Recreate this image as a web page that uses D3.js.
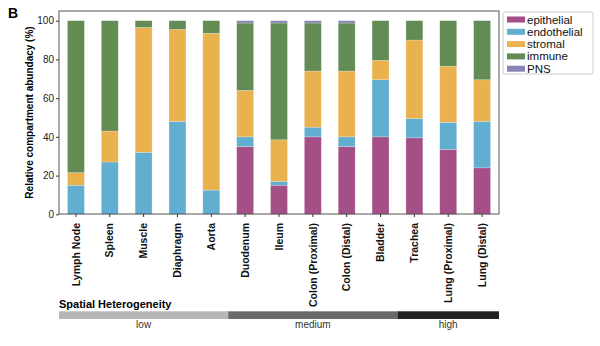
<!DOCTYPE html>
<html>
<head>
<meta charset="utf-8">
<script src="https://cdn.jsdelivr.net/npm/d3@7"></script>
<style>
  body { margin: 0; background: #fff; }
  svg { font-family: "Liberation Sans", Arial, sans-serif; }
</style>
</head>
<body>
<svg id="chart" width="600" height="346"></svg>
<script>
// data
const tissues = ["Lymph Node", "Spleen", "Muscle", "Diaphragm", "Aorta", "Duodenum", "Ileum",
  "Colon (Proximal)", "Colon (Distal)", "Bladder", "Trachea", "Lung (Proximal)", "Lung (Distal)"];
const epithelial  = [0, 0, 0, 0, 0, 35, 15, 40, 35, 40, 39.5, 33.5, 24];
const endothelial = [15, 27, 32, 48, 12.5, 5, 2, 5, 5, 29.5, 10, 14, 24];
const stromal     = [6.5, 16, 64.5, 47.5, 81, 24, 21.5, 29, 34, 10, 40.5, 29, 21.5];
const immune      = [78.5, 57, 3.5, 4.5, 6.5, 34.8, 60.3, 24.8, 24.8, 20.5, 10, 23.5, 30.5];
const pns         = [0, 0, 0, 0, 0, 1.2, 1.2, 1.2, 1.2, 0, 0, 0, 0];
const compartments = ["epithelial", "endothelial", "stromal", "immune", "PNS"];
const yTicks = [0, 20, 40, 60, 80, 100];
const heterogeneity = ["low", "low", "low", "low", "low", "medium", "medium", "medium", "medium", "medium", "high", "high", "high"];
const hetLevels = ["low", "medium", "high"];

const colors = {
  epithelial: "#a44f86",
  endothelial: "#62aed0",
  stromal: "#e9b24e",
  immune: "#638c55",
  PNS: "#8884b8"
};
const hetColors = { low: "#b6b6b6", medium: "#6a6a6a", high: "#222222" };

//build table for the stack
const series = [epithelial, endothelial, stromal, immune, pns];
const rows = tissues.map((t, i) => {
  let r = { tissue: t };
  compartments.forEach((c, j) => r[c] = series[j][i]);
  return r;
});

const margin = { top: 11, left: 59, right: 101, bottom: 132 };
const width = 600 - margin.left - margin.right;
const height = 346 - margin.top - margin.bottom;

const svg = d3.select("svg#chart");
const plot = svg.append("g")
  .attr("transform", "translate(" + margin.left + "," + margin.top + ")");

const xScale = d3.scaleBand()
  .domain(tissues)
  .range([0, width])
  .paddingInner(0.5)
  .paddingOuter(0.25);

const yScale = d3.scaleLinear()
  .domain([0, 100])
  .range([203.3, 9.7]);

const stacked = d3.stack().keys(compartments)(rows);

plot.selectAll("g.layer")
  .data(stacked)
  .enter()
  .append("g")
  .attr("class", "layer")
  .style("fill", d => colors[d.key])
  .selectAll("rect")
  .data(d => d)
  .enter()
  .append("rect")
  .attr("x", d => xScale(d.data.tissue))
  .attr("y", d => yScale(d[1]))
  .attr("width", xScale.bandwidth())
  .attr("height", d => yScale(d[0]) - yScale(d[1]))
  .style("stroke", "#ffffff")
  .style("stroke-opacity", 0.35)
  .style("stroke-width", 0.6);

//frame
plot.append("rect")
  .attr("width", width)
  .attr("height", height)
  .style("fill", "none")
  .style("stroke", "#555")
  .style("stroke-width", 1);

//y axis
const yAxis = plot.append("g")
  .call(d3.axisLeft(yScale).tickValues(yTicks).tickSize(3).tickPadding(2));
yAxis.select(".domain").remove();
yAxis.selectAll("text").style("font-size", "10px").style("fill", "#222");
yAxis.selectAll("line").style("stroke", "#333");

//x axis
const xAxis = plot.append("g")
  .attr("transform", "translate(0," + height + ")")
  .call(d3.axisBottom(xScale).tickSize(3));
xAxis.select(".domain").remove();
xAxis.selectAll("line").style("stroke", "#333");
xAxis.selectAll("text")
  .attr("transform", "rotate(-90)")
  .attr("x", -9)
  .attr("y", 0)
  .attr("dy", "0.35em")
  .style("text-anchor", "end")
  .style("font-size", "10.5px")
  .style("font-weight", "bold")
  .style("fill", "#111");

//y label
svg.append("text")
  .attr("transform", "translate(33," + (margin.top + height / 2) + ") rotate(-90)")
  .style("text-anchor", "middle")
  .style("font-size", "10px")
  .style("font-weight", "bold")
  .text("Relative compartment abundacy (%)");

//panel letter
svg.append("text")
  .attr("x", 8)
  .attr("y", 18)
  .style("font-size", "14px")
  .style("font-weight", "bold")
  .text("B");

//legend
const legend = svg.append("g").attr("transform", "translate(503,12)");
legend.append("rect")
  .attr("width", 90)
  .attr("height", 62)
  .attr("rx", 2)
  .style("fill", "#fff")
  .style("stroke", "#cccccc");
compartments.forEach((c, i) => {
  legend.append("rect")
    .attr("x", 4)
    .attr("y", 4.5 + i * 12.3)
    .attr("width", 18)
    .attr("height", 6)
    .style("fill", colors[c]);
  legend.append("text")
    .attr("x", 24)
    .attr("y", 11.5 + i * 12.3)
    .style("font-size", "11.5px")
    .style("fill", "#111")
    .text(c);
});

//spatial heterogeneity bar
const het = svg.append("g").attr("transform", "translate(" + margin.left + ",0)");
het.append("text")
  .attr("x", 0)
  .attr("y", 308)
  .style("font-size", "11px")
  .style("font-weight", "bold")
  .text("Spatial Heterogeneity");

const step = xScale.step();
hetLevels.forEach(level => {
  const idx = heterogeneity.map((h, i) => h == level ? i : -1).filter(i => i >= 0);
  const first = d3.min(idx), last = d3.max(idx);
  const x0 = first == 0 ? 0 : xScale(tissues[first]) - step * xScale.paddingInner() / 2;
  const x1 = last == tissues.length - 1 ? width : xScale(tissues[last]) + xScale.bandwidth() + step * xScale.paddingInner() / 2;
  het.append("rect")
    .attr("x", x0)
    .attr("y", 311)
    .attr("width", x1 - x0)
    .attr("height", 8)
    .style("fill", hetColors[level]);
  het.append("rect")
    .attr("x", x0)
    .attr("y", 311)
    .attr("width", x1 - x0)
    .attr("height", 1)
    .style("fill", "#fff")
    .style("opacity", 0.3);
  het.append("text")
    .attr("x", (x0 + x1) / 2)
    .attr("y", 328)
    .style("text-anchor", "middle")
    .style("font-size", "10px")
    .style("fill", "#333")
    .text(level);
});
</script>
</body>
</html>
